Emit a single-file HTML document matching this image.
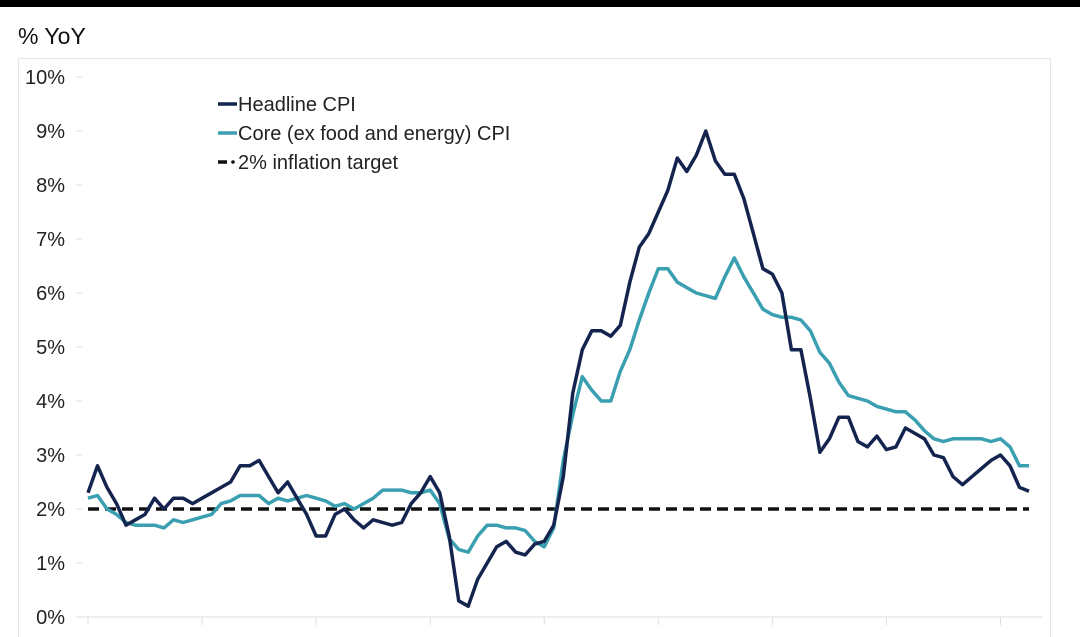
<!DOCTYPE html>
<html><head><meta charset="utf-8"><style>
html,body{margin:0;padding:0;background:#fff;}
body{width:1080px;height:637px;overflow:hidden;position:relative;font-family:"Liberation Sans",sans-serif;}
</style></head><body>
<div style="position:absolute;left:0;top:0;width:1080px;height:7px;background:#000"></div>
<svg id="chart" width="1080" height="637" style="position:absolute;left:0;top:0">
<text x="18" y="44" font-size="23" fill="#111" font-family="Liberation Sans, sans-serif">% YoY</text>
<rect x="18.5" y="58.5" width="1032" height="590" fill="none" stroke="#e6e6e6"/>
<g id="axes"></g>
<g id="series"></g>
<g font-size="20" fill="#222" font-family="Liberation Sans, sans-serif">
<line x1="218" y1="104" x2="237" y2="104" stroke="#14244f" stroke-width="3.5"/>
<text x="238" y="111">Headline CPI</text>
<line x1="218" y1="133" x2="237" y2="133" stroke="#3a9fb0" stroke-width="3.5"/>
<text x="238" y="140">Core (ex food and energy) CPI</text>
<line x1="218" y1="162" x2="227" y2="162" stroke="#111" stroke-width="3.5"/>
<circle cx="233" cy="162" r="1.8" fill="#111"/>
<text x="238" y="169">2% inflation target</text>
</g>
</svg>
<script>
const yTicks=[0,1,2,3,4,5,6,7,8,9,10];
const yTickLabels=["0%","1%","2%","3%","4%","5%","6%","7%","8%","9%","10%"];
const xTickMonths=[0,12,24,36,48,60,72,84,96];
const headline=[2.3,2.8,2.4,2.1,1.7,1.8,1.9,2.2,2.0,2.2,2.2,2.1,
2.2,2.3,2.4,2.5,2.8,2.8,2.9,2.6,2.3,2.5,2.2,1.9,
1.5,1.5,1.9,2.0,1.8,1.65,1.8,1.75,1.7,1.75,2.1,2.3,
2.6,2.3,1.5,0.3,0.2,0.7,1.0,1.3,1.4,1.2,1.15,1.35,
1.4,1.7,2.6,4.15,4.95,5.3,5.3,5.2,5.4,6.2,6.85,7.1,
7.5,7.9,8.5,8.25,8.55,9.0,8.45,8.2,8.2,7.75,7.1,6.45,
6.35,6.0,4.95,4.95,4.05,3.05,3.3,3.7,3.7,3.25,3.15,3.35,
3.1,3.15,3.5,3.4,3.3,3.0,2.95,2.6,2.45,2.6,2.75,2.9,
3.0,2.8,2.4,2.33];
const core=[2.2,2.25,2.0,1.9,1.75,1.7,1.7,1.7,1.65,1.8,1.75,1.8,
1.85,1.9,2.1,2.15,2.25,2.25,2.25,2.1,2.2,2.15,2.2,2.25,
2.2,2.15,2.05,2.1,2.0,2.1,2.2,2.35,2.35,2.35,2.3,2.3,
2.35,2.1,1.45,1.25,1.2,1.5,1.7,1.7,1.65,1.65,1.6,1.4,
1.3,1.65,2.9,3.75,4.45,4.2,4.0,4.0,4.55,4.95,5.5,6.0,
6.45,6.45,6.2,6.1,6.0,5.95,5.9,6.3,6.65,6.3,6.0,5.7,
5.6,5.55,5.55,5.5,5.3,4.9,4.7,4.35,4.1,4.05,4.0,3.9,
3.85,3.8,3.8,3.65,3.45,3.3,3.25,3.3,3.3,3.3,3.3,3.25,
3.3,3.15,2.8,2.8];
const target=2;
const NS="http://www.w3.org/2000/svg";
const x0=88,dx=9.505,yBase=617,yUnit=54;
function xs(i){return x0+i*dx;}
function ys(v){return yBase-v*yUnit;}
const axes=document.getElementById('axes');
yTicks.forEach((t,k)=>{
  const l=document.createElementNS(NS,'line');
  
  
  l.setAttribute('x1',76);l.setAttribute('x2',82);
  l.setAttribute('y1',ys(t));l.setAttribute('y2',ys(t));
  l.setAttribute('stroke','#ddd');axes.appendChild(l);
  const tx=document.createElementNS(NS,'text');
  
  
  tx.setAttribute('x',65);tx.setAttribute('y',ys(t)+7);
  tx.setAttribute('text-anchor','end');tx.setAttribute('font-size','20');
  tx.setAttribute('fill','#222');tx.textContent=yTickLabels[k];axes.appendChild(tx);
});
const base=document.createElementNS(NS,'line');


base.setAttribute('x1',82);base.setAttribute('x2',1043);
base.setAttribute('y1',yBase);base.setAttribute('y2',yBase);
base.setAttribute('stroke','#ddd');axes.appendChild(base);
xTickMonths.forEach(m=>{
  const l=document.createElementNS(NS,'line');
  
  
  l.setAttribute('x1',xs(m));l.setAttribute('x2',xs(m));
  l.setAttribute('y1',yBase);l.setAttribute('y2',yBase+8);
  l.setAttribute('stroke','#ddd');axes.appendChild(l);
});
const g=document.getElementById('series');
const tl=document.createElementNS(NS,'line');


tl.setAttribute('x1',xs(0));tl.setAttribute('x2',xs(headline.length-1));
tl.setAttribute('y1',ys(target));tl.setAttribute('y2',ys(target));
tl.setAttribute('stroke','#111');tl.setAttribute('stroke-width','3.5');
tl.setAttribute('stroke-dasharray','11 6');g.appendChild(tl);
function path(arr,color,name){
  const p=document.createElementNS(NS,'polyline');
  
  
  p.setAttribute('points',arr.map((v,i)=>xs(i).toFixed(1)+','+ys(v).toFixed(1)).join(' '));
  p.setAttribute('fill','none');p.setAttribute('stroke',color);
  p.setAttribute('stroke-width','3.5');p.setAttribute('stroke-linejoin','round');
  g.appendChild(p);
}
path(core,'#3a9fb0','core-cpi-line');
path(headline,'#14244f','headline-cpi-line');
</script>
</body></html>
